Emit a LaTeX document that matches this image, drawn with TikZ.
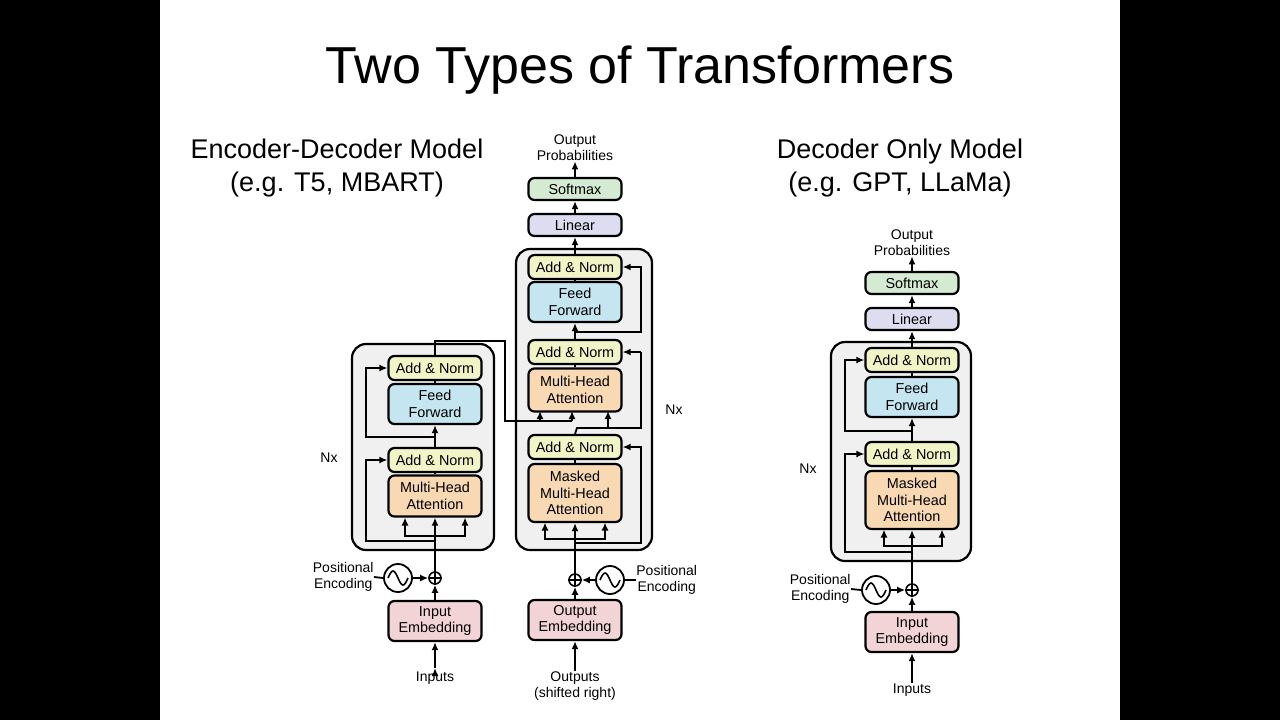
\documentclass[tikz,border=0pt]{standalone}
\usepackage{fontspec}
\setmainfont{Liberation Sans}
\usetikzlibrary{arrows.meta}
\definecolor{cAN}{HTML}{F1F4C6}
\definecolor{cFF}{HTML}{C5E5F0}
\definecolor{cMH}{HTML}{F8D9B4}
\definecolor{cEM}{HTML}{F3D4D6}
\definecolor{cSM}{HTML}{D5EAD3}
\definecolor{cLN}{HTML}{DCDDF0}
\definecolor{cBG}{HTML}{F0F0F0}
\tikzset{
 blk/.style={draw,line width=1.1pt,rounded corners=3pt,minimum width=46.5pt,align=center,font=\fontsize{7.2}{8.2}\selectfont,inner sep=0pt},
 an/.style={blk,fill=cAN,minimum height=12pt},
 ff/.style={blk,fill=cFF,minimum height=20pt},
 mh/.style={blk,fill=cMH},
 em/.style={blk,fill=cEM,minimum height=20pt},
 sm/.style={blk,fill=cSM,minimum height=11pt},
 ln/.style={blk,fill=cLN,minimum height=11pt},
 big/.style={draw,line width=1.1pt,rounded corners=7pt,fill=cBG},
 lbl/.style={font=\fontsize{7}{8}\selectfont,align=center,inner sep=0pt},
 arr/.style={line width=0.9pt,-{Latex[length=4pt,width=3.5pt]}},
 ln2/.style={line width=0.9pt},
 plus/.style={circle,draw,line width=0.8pt,minimum size=6pt,inner sep=0pt},
 sine/.style={circle,draw,line width=0.9pt,minimum size=14pt,inner sep=0pt},
}
\newcommand{\pluscross}[1]{\draw[line width=0.6pt] (#1.north)--(#1.south) (#1.west)--(#1.east);}
\newcommand{\sinewave}[2]{\begin{scope}[shift={(#1,#2)}]\draw[line width=0.8pt] (-10,0) sin (-5,-7) cos (0,0) sin (5,7) cos (10,0);\end{scope}}
\begin{document}
\begin{tikzpicture}[x=0.5pt,y=-0.5pt]
\useasboundingbox (0,0) rectangle (1280,720);
\fill[black] (0,0) rectangle (1280,720);
\fill[white] (160,0) rectangle (1120,720);
\node[font=\fontsize{26}{30}\selectfont] (title) at (640,70) {Two Types of Transformers};
\node[font=\fontsize{13.5}{16.5}\selectfont,align=center] (h1) at (337,168) {Encoder-Decoder Model\\(e.g. T5, MBART)};
\node[font=\fontsize{13.5}{16.5}\selectfont,align=center] (h2) at (900,168) {Decoder Only Model\\(e.g. GPT, LLaMa)};

% ===== Encoder =====
\draw[big] (352,344) rectangle (494,550);
\node[an] (ean2) at (435,368) {Add \& Norm};
\node[ff] (eff) at (435,404) {Feed\\Forward};
\node[an] (ean1) at (435,460) {Add \& Norm};
\node[mh,minimum height=20.5pt] (emh) at (435,496) {Multi-Head\\Attention};
\node[em] (eem) at (435,621) {Input\\Embedding};
\node[lbl] (ein) at (435,678) {Inputs};
\node[plus] (eplus) at (435,578) {}; \pluscross{eplus}
\node[sine] (esin) at (398,578) {}; \sinewave{398}{578}
\node[lbl,anchor=east] (epe) at (374,577) {Positional\\Encoding};
\node[lbl] (enx) at (329,458) {Nx};
\draw[arr] (ein.north) -- (eem.north |- 0,668) ;
\draw[arr] (435,668) -- (eem.south);
\draw[arr] (eem.north) -- (eplus.south);
\draw[arr] (eplus.north) -- (emh.south);
\draw[ln2] (epe.east) -- (esin.west);
\draw[arr] (esin.east) -- (eplus.west);
\draw[arr] (435,536) -| (405,517.5);
\draw[arr] (435,536) -| (465,517.5);
\draw[arr] (435,541) -- (366,541) -- (366,460) -- (ean1.west);
\draw[ln2] (emh.north) -- (ean1.south);
\draw[arr] (ean1.north) -- (eff.south);
\draw[arr] (435,437) -- (366,437) -- (366,368) -- (ean2.west);
\draw[ln2] (eff.north) -- (ean2.south);

% ===== Decoder =====
\draw[big] (516,249) rectangle (652,550);
\node[sm] (dsm) at (575,189) {Softmax};
\node[ln] (dlin) at (575,225) {Linear};
\node[lbl] (dop) at (575,148) {Output\\Probabilities};
\node[an] (dan3) at (575,267) {Add \& Norm};
\node[ff] (dff) at (575,302) {Feed\\Forward};
\node[an] (dan2) at (575,352) {Add \& Norm};
\node[mh,minimum height=21.5pt] (dmh) at (575,390) {Multi-Head\\Attention};
\node[an] (dan1) at (575,447) {Add \& Norm};
\node[mh,minimum height=29pt] (dmmh) at (575,493) {Masked\\Multi-Head\\Attention};
\node[em] (dem) at (575,620) {Output\\Embedding};
\node[lbl] (dout) at (575,686) {Outputs\\(shifted right)};
\node[plus] (dplus) at (575,580) {}; \pluscross{dplus}
\node[sine] (dsin) at (610,580) {}; \sinewave{610}{580}
\node[lbl,anchor=west] (dpe) at (636,580) {Positional\\Encoding};
\node[lbl] (dnx) at (674,410) {Nx};
\draw[arr] (dout.north) -- (dem.south);
\draw[arr] (dem.north) -- (dplus.south);
\draw[arr] (dplus.north) -- (dmmh.south);
\draw[ln2] (dpe.west) -- (dsin.east);
\draw[arr] (dsin.west) -- (dplus.east);
\draw[arr] (575,539) -| (545,522.5);
\draw[arr] (575,539) -| (605,522.5);
\draw[arr] (575,543) -- (641,543) -- (641,447) -- (dan1.east);
\draw[ln2] (dmmh.north) -- (dan1.south);
\draw[ln2] (dan1.north) -- (577,428) -- (641,428) -- (641,352);
\draw[arr] (641,352) -- (dan2.east);
\draw[arr] (608,428) -- (608,411);
\draw[ln2] (ean2.north) |- (505,341) -- (505,421) -- (572,421);
\draw[arr] (540,421) -- (540,411);
\draw[arr] (572,421) -- (572,411);
\draw[ln2] (dmh.north) -- (dan2.south);
\draw[arr] (dan2.north) -- (dff.south);
\draw[arr] (575,332) -- (641,332) -- (641,267) -- (dan3.east);
\draw[ln2] (dff.north) -- (dan3.south);
\draw[arr] (dan3.north) -- (dlin.south);
\draw[arr] (dlin.north) -- (dsm.south);
\draw[arr] (dsm.north) -- (dop.south);

% ===== Decoder only =====
\draw[big] (831,342) rectangle (971,561);
\node[sm] (gsm) at (912,283) {Softmax};
\node[ln] (glin) at (912,319) {Linear};
\node[lbl] (gop) at (912,243) {Output\\Probabilities};
\node[an] (gan2) at (912,360) {Add \& Norm};
\node[ff] (gff) at (912,397) {Feed\\Forward};
\node[an] (gan1) at (912,454) {Add \& Norm};
\node[mh,minimum height=29pt] (gmh) at (912,500) {Masked\\Multi-Head\\Attention};
\node[em] (gem) at (912,632) {Input\\Embedding};
\node[lbl] (gin) at (912,690) {Inputs};
\node[plus] (gplus) at (912,590) {}; \pluscross{gplus}
\node[sine] (gsin) at (876,590) {}; \sinewave{876}{590}
\node[lbl,anchor=east] (gpe) at (851,589) {Positional\\Encoding};
\node[lbl] (gnx) at (808,469) {Nx};
\draw[arr] (gin.north) -- (gem.south);
\draw[arr] (gem.north) -- (gplus.south);
\draw[arr] (gplus.north) -- (gmh.south);
\draw[ln2] (gpe.east) -- (gsin.west);
\draw[arr] (gsin.east) -- (gplus.west);
\draw[arr] (912,546) -| (884,529.5);
\draw[arr] (912,546) -| (942,529.5);
\draw[arr] (912,552) -- (845,552) -- (845,454) -- (gan1.west);
\draw[ln2] (gmh.north) -- (gan1.south);
\draw[arr] (gan1.north) -- (gff.south);
\draw[arr] (912,431) -- (845,431) -- (845,360) -- (gan2.west);
\draw[ln2] (gff.north) -- (gan2.south);
\draw[arr] (gan2.north) -- (glin.south);
\draw[arr] (glin.north) -- (gsm.south);
\draw[arr] (gsm.north) -- (gop.south);
\end{tikzpicture}
\end{document}
